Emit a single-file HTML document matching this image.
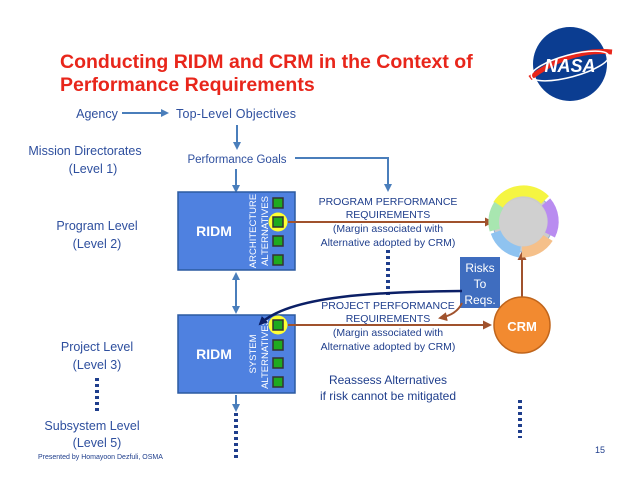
<!DOCTYPE html>
<html><head><style>
body{margin:0;background:#fff;width:638px;height:493px;overflow:hidden;font-family:"Liberation Sans",sans-serif}
</style></head><body>
<svg width="638" height="493" viewBox="0 0 638 493" xmlns="http://www.w3.org/2000/svg" font-family="Liberation Sans, sans-serif">
<defs>
<marker id="ab" markerWidth="8" markerHeight="8" refX="6" refY="4" orient="auto-start-reverse" markerUnits="userSpaceOnUse"><path d="M0,0 L8,4 L0,8z" fill="#4a7ebb"/></marker>
<marker id="ao" markerWidth="9" markerHeight="9" refX="7" refY="4.5" orient="auto" markerUnits="userSpaceOnUse"><path d="M0,0 L9,4.5 L0,9z" fill="#a0522d"/></marker>
<marker id="an" markerWidth="9" markerHeight="9" refX="7" refY="4.5" orient="auto" markerUnits="userSpaceOnUse"><path d="M0,0 L9,4.5 L0,9z" fill="#0b1f66"/></marker>
</defs>
<text x="60" y="68" font-size="19.5" font-weight="bold" fill="#e8261b">Conducting RIDM and CRM in the Context of</text>
<text x="60" y="91" font-size="19.5" font-weight="bold" fill="#e8261b">Performance Requirements</text>
<circle cx="570" cy="64" r="37" fill="#0b3d91"/>
<path d="M530,78 Q570,48 612,52" stroke="#e8261b" stroke-width="5" fill="none"/>
<ellipse cx="570" cy="66" rx="40" ry="11" fill="none" stroke="#fff" stroke-width="1.5" transform="rotate(-15 570 66)"/>
<text x="570" y="72" font-size="18" font-weight="bold" fill="#fff" text-anchor="middle" font-style="italic">NASA</text>
<g font-size="12.5" fill="#2e4f9e" text-anchor="middle">
<text x="97" y="118">Agency</text>
<text x="236" y="118" textLength="120">Top-Level Objectives</text>
<text x="85" y="155">Mission Directorates</text>
<text x="93" y="173">(Level 1)</text>
<text x="237" y="163" font-size="11.5">Performance Goals</text>
<text x="97" y="230">Program Level</text>
<text x="97" y="248">(Level 2)</text>
<text x="97" y="351">Project Level</text>
<text x="97" y="369">(Level 3)</text>
<text x="92" y="430">Subsystem Level</text>
<text x="97" y="447">(Level 5)</text>
</g>
<line x1="97" y1="378" x2="97" y2="412" stroke="#1f3e8c" stroke-width="4" stroke-dasharray="3,3"/>
<line x1="122" y1="113" x2="167" y2="113" stroke="#4a7ebb" stroke-width="2" marker-end="url(#ab)"/>
<line x1="237" y1="125" x2="237" y2="148" stroke="#4a7ebb" stroke-width="2" marker-end="url(#ab)"/>
<polyline points="295,158 388,158 388,190" fill="none" stroke="#4a7ebb" stroke-width="2" marker-end="url(#ab)"/>
<line x1="236" y1="169" x2="236" y2="191" stroke="#4a7ebb" stroke-width="2" marker-end="url(#ab)"/>
<line x1="236" y1="274" x2="236" y2="312" stroke="#4a7ebb" stroke-width="2" marker-end="url(#ab)" marker-start="url(#ab)"/>
<line x1="236" y1="395" x2="236" y2="410" stroke="#4a7ebb" stroke-width="2" marker-end="url(#ab)"/>
<line x1="236" y1="413" x2="236" y2="458" stroke="#1f3e8c" stroke-width="4" stroke-dasharray="3,3"/>
<line x1="388" y1="250" x2="388" y2="296" stroke="#1f3e8c" stroke-width="4" stroke-dasharray="3,3"/>
<line x1="520" y1="400" x2="520" y2="438" stroke="#1f3e8c" stroke-width="4" stroke-dasharray="3,3"/>
<rect x="178" y="192" width="117" height="78" fill="#4f81e0" stroke="#2c5aa0" stroke-width="1.5"/>
<rect x="178" y="315" width="117" height="78" fill="#4f81e0" stroke="#2c5aa0" stroke-width="1.5"/>
<text x="214" y="236" font-size="14" font-weight="bold" fill="#fff" text-anchor="middle">RIDM</text>
<text x="214" y="359" font-size="14" font-weight="bold" fill="#fff" text-anchor="middle">RIDM</text>
<text transform="translate(256,231) rotate(-90)" font-size="9.5" fill="#fff" text-anchor="middle">ARCHITECTURE</text>
<text transform="translate(268,231) rotate(-90)" font-size="9.5" fill="#fff" text-anchor="middle">ALTERNATIVES</text>
<text transform="translate(256,354) rotate(-90)" font-size="9.5" fill="#fff" text-anchor="middle">SYSTEM</text>
<text transform="translate(268,354) rotate(-90)" font-size="9.5" fill="#fff" text-anchor="middle">ALTERNATIVES</text>
<circle cx="278" cy="222" r="9.5" fill="#ffff33"/>
<circle cx="278" cy="325" r="9.5" fill="#ffff33"/>
<g fill="#1faa1f" stroke="#333" stroke-width="1.5">
<rect x="273" y="198" width="10" height="10"/><rect x="273" y="217" width="10" height="10"/>
<rect x="273" y="236" width="10" height="10"/><rect x="273" y="255" width="10" height="10"/>
<rect x="273" y="320" width="10" height="10"/><rect x="273" y="340" width="10" height="10"/>
<rect x="273" y="358" width="10" height="10"/><rect x="273" y="377" width="10" height="10"/>
</g>
<line x1="288" y1="222" x2="492" y2="222" stroke="#a0522d" stroke-width="2" marker-end="url(#ao)"/>
<line x1="288" y1="325" x2="490" y2="325" stroke="#a0522d" stroke-width="2" marker-end="url(#ao)"/>
<line x1="522" y1="297" x2="522" y2="253" stroke="#a0522d" stroke-width="2" marker-end="url(#ao)"/>
<g font-size="10.5" fill="#1f3e8c" text-anchor="middle">
<text x="388" y="205">PROGRAM PERFORMANCE</text>
<text x="388" y="218">REQUIREMENTS</text>
<text x="388" y="232">(Margin  associated with</text>
<text x="388" y="246">Alternative adopted by CRM)</text>
<text x="388" y="309">PROJECT PERFORMANCE</text>
<text x="388" y="322">REQUIREMENTS</text>
<text x="388" y="336">(Margin  associated with</text>
<text x="388" y="350">Alternative adopted by CRM)</text>
<text x="388" y="384" font-size="12">Reassess Alternatives</text>
<text x="388" y="400" font-size="12">if risk cannot be mitigated</text>
</g>
<circle cx="523" cy="222" r="30" fill="#ccc" stroke="#8fb0d8" stroke-width="1"/>
<path d="M498,205 A30,30 0 0 1 545,200" stroke="#f5f542" stroke-width="11" fill="none"/>
<path d="M546,202 A30,30 0 0 1 550,235" stroke="#b98cf0" stroke-width="11" fill="none"/>
<path d="M548,238 A30,30 0 0 1 522,252" stroke="#f5c08a" stroke-width="11" fill="none"/>
<path d="M520,252 A30,30 0 0 1 496,232" stroke="#8fc3f0" stroke-width="11" fill="none"/>
<path d="M495,230 A30,30 0 0 1 499,205" stroke="#a8e6b0" stroke-width="11" fill="none"/>
<circle cx="523" cy="222" r="24" fill="#d0d0d0"/>
<rect x="460" y="257" width="40" height="51" fill="#3f6dbf"/>
<g font-size="12" fill="#fff" text-anchor="middle"><text x="480" y="272">Risks</text><text x="480" y="288">To</text><text x="480" y="304">Reqs.</text></g>
<circle cx="522" cy="325" r="28" fill="#f28a30" stroke="#c0651c" stroke-width="1.5"/>
<text x="522" y="331" font-size="13" font-weight="bold" fill="#fff" text-anchor="middle">CRM</text>
<path d="M462,291 C380,292 290,295 260,324" fill="none" stroke="#0b1f66" stroke-width="2.5" marker-end="url(#an)"/>
<path d="M462,303 C458,312 450,316 440,318" fill="none" stroke="#a0522d" stroke-width="2" marker-end="url(#ao)"/>
<text x="38" y="459" font-size="7" fill="#1f3e8c">Presented by Homayoon Dezfuli, OSMA</text>
<text x="595" y="453" font-size="9" fill="#1f3e8c">15</text>
</svg>
</body></html>
